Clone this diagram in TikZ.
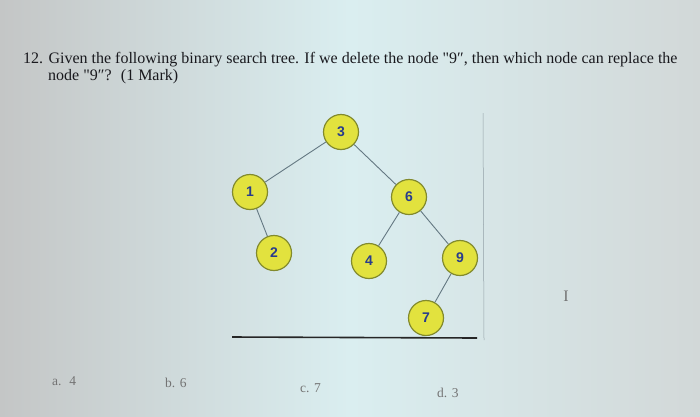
\documentclass[tikz,border=0pt]{standalone}
\usepackage{fontspec}
\setmainfont{Liberation Serif}
\setsansfont{Liberation Sans}
\definecolor{bgleft}{RGB}{196,198,198}
\definecolor{bgmid}{RGB}{218,238,240}
\definecolor{bgright}{RGB}{210,216,216}
\definecolor{nodefill}{RGB}{226,226,62}
\definecolor{nodeedge}{RGB}{130,138,45}
\definecolor{numcol}{RGB}{40,60,140}
\definecolor{edgecol}{RGB}{100,120,130}
\definecolor{optcol}{RGB}{115,115,115}
\definecolor{txtcol}{RGB}{25,25,30}
\tikzset{
  bstnode/.style={circle, draw=nodeedge, line width=1.2pt, fill=nodefill, minimum size=35pt, inner sep=0pt,
    text=numcol, font=\sffamily\bfseries\fontsize{14}{14}\selectfont},
  bstedge/.style={draw=edgecol, line width=0.9pt},
  opt/.style={text=optcol, font=\fontsize{13.5}{14}\selectfont, anchor=west, inner sep=0pt},
  qtext/.style={text=txtcol, font=\fontsize{16}{18}\selectfont, anchor=west, inner sep=0pt}
}
\begin{document}
\begin{tikzpicture}[x=1pt,y=-1pt]
\useasboundingbox (0,0) rectangle (700,416);
\shade[left color=bgleft, right color=bgright, middle color=bgmid] (0,0) rectangle (700,416);
\node[qtext] (q1) at (23,60) {12. Given the following binary search tree. If we delete the node \textquotedbl9″, then which node can replace the};
\node[qtext] (q2) at (48,77) {node \textquotedbl9″? \ (1 Mark)};
\node[bstnode] (n3) at (341,132) {3};
\node[bstnode] (n1) at (250,192) {1};
\node[bstnode] (n6) at (409,197) {6};
\node[bstnode] (n2) at (274,253) {2};
\node[bstnode] (n4) at (369,261) {4};
\node[bstnode] (n9) at (460,258) {9};
\node[bstnode] (n7) at (426,318) {7};
\draw[bstedge] (n3) -- (n1);
\draw[bstedge] (n3) -- (n6);
\draw[bstedge] (n1) -- (n2);
\draw[bstedge] (n6) -- (n4);
\draw[bstedge] (n6) -- (n9);
\draw[bstedge] (n9) -- (n7);
\coordinate (hl) at (232,337);
\coordinate (hr) at (477,338);
\draw[line width=1.6pt, black!85] (hl) -- (hr);
\coordinate (vt) at (483,113);
\coordinate (vb) at (484,340);
\draw[line width=0.5pt, edgecol!70] (vt) -- (vb);
\node[opt] (oa) at (52,381) {a. \ 4};
\node[opt] (ob) at (165,383) {b. 6};
\node[opt] (oc) at (300,388) {c. 7};
\node[opt] (od) at (437,393) {d. 3};
\node[text=optcol, font=\fontsize{16}{16}\selectfont] (cur) at (566,296) {I};
\end{tikzpicture}
\end{document}
